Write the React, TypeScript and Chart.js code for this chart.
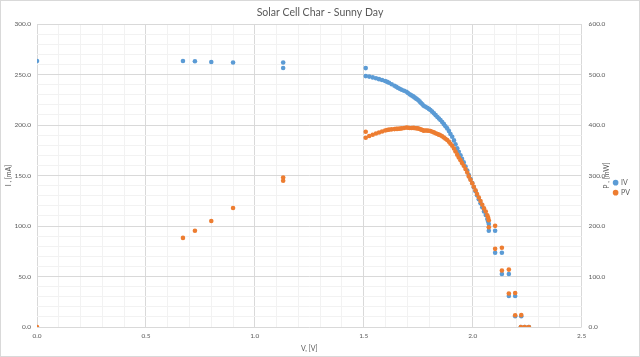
import React, { useEffect, useRef } from "react";
import { Chart, registerables } from "chart.js";

Chart.register(...registerables);

// ---- Data ----
const voltageV = [
  0.0, 0.67, 0.725, 0.8, 0.9, 1.13, 1.13,
  1.509, 1.509, 1.525, 1.541, 1.556, 1.57, 1.584, 1.598, 1.607, 1.616, 1.628, 1.641,
  1.649, 1.656, 1.665, 1.674, 1.685, 1.696, 1.703, 1.711, 1.719, 1.727, 1.733, 1.739,
  1.745, 1.751, 1.757, 1.763, 1.769, 1.775, 1.783, 1.791, 1.799, 1.806, 1.814, 1.822,
  1.83, 1.838, 1.845, 1.852, 1.86, 1.868, 1.875, 1.883, 1.891, 1.898, 1.906, 1.914,
  1.921, 1.929, 1.936, 1.944, 1.951, 1.959, 1.967, 1.975, 1.982, 1.99, 1.998, 2.005,
  2.013, 2.02, 2.028, 2.036, 2.044, 2.052, 2.06, 2.067, 2.071, 2.074,
  2.074, 2.103, 2.103, 2.134, 2.134, 2.166, 2.166, 2.195, 2.195, 2.223,
  2.221, 2.239, 2.258,
];

const currentMA = [
  263.4, 263.4, 263.2, 262.5, 262.0, 262.0, 256.5,
  256.4, 248.5, 248.0, 247.2, 246.4, 245.5, 244.6, 243.6, 242.8, 241.9, 240.5, 238.9,
  238.0, 237.0, 236.0, 235.0, 234.0, 233.0, 231.7, 230.4, 229.4, 228.4, 227.4, 226.4,
  225.5, 224.5, 223.2, 221.8, 220.5, 219.1, 218.2, 217.2, 216.0, 214.9, 213.3, 211.6,
  209.8, 208.0, 206.5, 205.0, 203.0, 200.9, 198.8, 196.7, 194.0, 191.2, 188.4, 184.8,
  181.0, 177.0, 173.5, 170.0, 166.5, 163.0, 159.0, 155.0, 150.5, 146.5, 142.5, 138.5,
  134.5, 130.5, 126.5, 122.5, 118.5, 114.5, 111.0, 107.0, 104.5, 102.0,
  95.3, 95.3, 73.6, 73.6, 52.5, 52.5, 30.7, 30.7, 10.6, 10.6,
  0, 0, 0,
];

const powerMW = [
  0, 176.5, 190.8, 210.0, 235.8, 296.1, 289.8,
  386.9, 375.0, 378.2, 380.9, 383.4, 385.4, 387.4, 389.3, 390.2, 390.9, 391.5, 392.0,
  392.5, 392.5, 392.9, 393.4, 394.3, 395.2, 394.6, 394.2, 394.3, 394.4, 394.1, 393.7,
  393.5, 393.1, 392.2, 391.0, 390.1, 388.9, 389.1, 389.0, 388.6, 388.1, 386.9, 385.5,
  383.9, 382.3, 381.0, 379.7, 377.6, 375.3, 372.8, 370.4, 366.9, 362.9, 359.1, 353.7,
  347.7, 341.4, 335.9, 330.5, 324.8, 319.3, 312.8, 306.1, 298.3, 291.5, 284.7, 277.7,
  270.7, 263.6, 256.5, 249.4, 242.2, 234.9, 228.7, 221.2, 216.4, 211.5,
  197.7, 200.4, 154.8, 157.1, 112.0, 113.7, 66.5, 67.4, 23.3, 23.6,
  0, 0, 0,
];

const seriesNames = ["IV", "PV"];
const chartTitle = "Solar Cell Char - Sunny Day";
const xTitle = "V, [V]";
const yTitle = "I , [mA]";
const y1Title = "P , [mW]";

const xMin = 0, xMax = 2.5, xMajorStep = 0.5, xMinorStep = 0.1;
const yMin = 0, yMax = 300, yMajorStep = 50, yMinorStep = 10;
const y1Min = 0, y1Max = 600, y1MajorStep = 100;

const BLUE = "#5B9BD5";
const ORANGE = "#ED7D31";
const TEXT = "#595959";
const MAJOR_GRID = "#d9d9d9";
const MINOR_GRID = "#f2f2f2";
const FONT = "Lato, 'Open Sans', 'DejaVu Sans', sans-serif";
const TICK_SIZE = 6.5;

const decorPlugin = {
  id: "decor",
  beforeDraw(chart: any) {
    const { ctx, width, height } = chart;
    ctx.save();
    ctx.fillStyle = "#ffffff";
    ctx.fillRect(0, 0, width, height);
    ctx.restore();
  },
  afterDraw(chart: any) {
    const { ctx, width, height } = chart;
    ctx.save();
    ctx.strokeStyle = MAJOR_GRID;
    ctx.lineWidth = 1;
    ctx.strokeRect(0.5, 0.5, width - 1, height - 1);
    // secondary axis title, rotated like the primary one (bottom-to-top)
    const y1 = chart.scales.y1;
    const area = chart.chartArea;
    ctx.translate(y1.right - 4, (area.top + area.bottom) / 2);
    ctx.rotate(-Math.PI / 2);
    ctx.fillStyle = TEXT;
    ctx.font = `7px ${FONT}`;
    ctx.textAlign = "center";
    ctx.textBaseline = "middle";
    ctx.fillText(y1Title, 0, 0);
    ctx.restore();
  },
};

export default function App() {
  const canvasRef = useRef<HTMLCanvasElement | null>(null);

  useEffect(() => {
    document.body.style.margin = "0";
    const canvas = canvasRef.current;
    if (!canvas) return;

    const ivData = voltageV.map((v, i) => ({ x: v, y: currentMA[i] }));
    const pvData = voltageV.map((v, i) => ({ x: v, y: powerMW[i] }));

    const isMultiple = (v: number, step: number) => {
      const r = v / step;
      return Math.abs(r - Math.round(r)) < 1e-6;
    };

    const chart = new Chart(canvas, {
      type: "scatter",
      data: {
        datasets: [
          {
            label: seriesNames[0],
            data: ivData,
            yAxisID: "y",
            backgroundColor: BLUE,
            borderColor: BLUE,
            pointStyle: "circle",
            pointRadius: 2.3,
            borderWidth: 0,
            order: 2,
          },
          {
            label: seriesNames[1],
            data: pvData,
            yAxisID: "y1",
            backgroundColor: ORANGE,
            borderColor: ORANGE,
            pointStyle: "circle",
            pointRadius: 2.3,
            borderWidth: 0,
            order: 1,
          },
        ],
      },
      options: {
        responsive: false,
        animation: false,
        maintainAspectRatio: false,
        layout: { padding: { top: 0, right: 0, bottom: 0, left: 0 } },
        plugins: {
          title: {
            display: true,
            text: chartTitle,
            color: TEXT,
            font: { family: FONT, size: 10.5, weight: "normal" },
            padding: { top: 6, bottom: 5.5 },
          },
          legend: {
            display: true,
            position: "right",
            title: {
              display: true,
              text: " ",
              font: { family: FONT, size: 7 },
              padding: { top: 0, bottom: 10 },
            },
            labels: {
              usePointStyle: true,
              pointStyle: "circle",
              boxWidth: 4,
              boxHeight: 4,
              padding: 3,
              color: TEXT,
              font: { family: FONT, size: 7 },
              sort: (a: any, b: any) => a.datasetIndex - b.datasetIndex,
            },
          },
          tooltip: { enabled: false },
        },
        scales: {
          x: {
            type: "linear",
            min: xMin,
            max: xMax,
            afterBuildTicks: (axis: any) => {
              const ticks = [];
              for (let v = xMin; v <= xMax + 1e-9; v += xMinorStep) {
                ticks.push({ value: Math.round(v * 10) / 10 });
              }
              axis.ticks = ticks;
            },
            afterFit: (axis: any) => {
              axis.height = 30;
            },
            grid: {
              color: (ctx: any) =>
                isMultiple(ctx.tick.value, xMajorStep) ? MAJOR_GRID : MINOR_GRID,
              drawTicks: false,
            },
            border: { display: false },
            ticks: {
              autoSkip: false,
              maxRotation: 0,
              padding: 5,
              color: TEXT,
              font: { family: FONT, size: TICK_SIZE },
              callback: (value: any) =>
                isMultiple(Number(value), xMajorStep) ? Number(value).toFixed(1) : "",
            },
            title: {
              display: true,
              text: xTitle,
              color: TEXT,
              font: { family: FONT, size: 7 },
              padding: { top: 0, bottom: 4 },
            },
          },
          y: {
            type: "linear",
            position: "left",
            min: yMin,
            max: yMax,
            afterBuildTicks: (axis: any) => {
              const ticks = [];
              for (let v = yMin; v <= yMax; v += yMinorStep) ticks.push({ value: v });
              axis.ticks = ticks;
            },
            afterFit: (axis: any) => {
              axis.width = 37;
            },
            grid: {
              color: (ctx: any) =>
                isMultiple(ctx.tick.value, yMajorStep) ? MAJOR_GRID : MINOR_GRID,
              drawTicks: false,
            },
            border: { display: false },
            ticks: {
              autoSkip: false,
              padding: 6,
              color: TEXT,
              font: { family: FONT, size: TICK_SIZE },
              callback: (value: any) =>
                isMultiple(Number(value), yMajorStep) ? Number(value).toFixed(1) : "",
            },
            title: {
              display: true,
              text: yTitle,
              color: TEXT,
              font: { family: FONT, size: 7 },
              padding: { top: 5, bottom: 0 },
            },
          },
          y1: {
            type: "linear",
            position: "right",
            min: y1Min,
            max: y1Max,
            afterBuildTicks: (axis: any) => {
              const ticks = [];
              for (let v = y1Min; v <= y1Max; v += y1MajorStep) ticks.push({ value: v });
              axis.ticks = ticks;
            },
            afterFit: (axis: any) => {
              axis.width = 29;
            },
            grid: { display: false, drawTicks: false },
            border: { display: false },
            ticks: {
              autoSkip: false,
              padding: 7,
              color: TEXT,
              font: { family: FONT, size: TICK_SIZE },
              callback: (value: any) => Number(value).toFixed(1),
            },
            title: { display: false },
          },
        },
      },
      plugins: [decorPlugin],
    } as any);

    return () => chart.destroy();
  }, []);

  return (
    <div style={{ width: 640, height: 357 }}>
      <canvas ref={canvasRef} width={640} height={357} style={{ display: "block" }} />
    </div>
  );
}
